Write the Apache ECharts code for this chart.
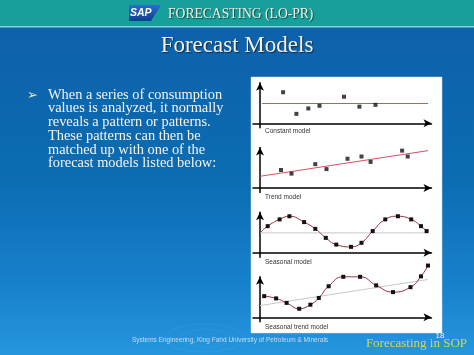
<!DOCTYPE html>
<html><head><meta charset="utf-8">
<script src="https://cdn.jsdelivr.net/npm/echarts@6/dist/echarts.min.js"></script>
<style>html,body{margin:0;padding:0;background:#0e60aa;}#c{width:474px;height:355px;}</style>
</head><body><div id="c"></div>
<script>
// ---- data (x = period, y = consumption) ----
const panelTitles = ['Constant model', 'Trend model', 'Seasonal model', 'Seasonal trend model'];

const constantPts = [[3.3, 6.9], [5.2, 2.1], [6.9, 3.3], [8.5, 3.9], [12.0, 5.9], [14.2, 3.7], [16.5, 4.1]];
const constantLine = [[0.3, 4.4], [24, 4.4]];

const trendPts = [[3.0, 4.0], [4.5, 3.2], [7.9, 5.3], [9.5, 4.2], [12.5, 6.5], [14.5, 7.0], [15.8, 5.8], [20.3, 8.3], [21.1, 7.0]];
const trendLine = [[0, 2.6], [24, 8.3]];

const seasonalPts = [[1.1, 5.9], [2.8, 7.4], [4.2, 8.1], [6.3, 6.8], [7.9, 5.3], [9.4, 3.3], [10.9, 1.8], [13.0, 1.3], [14.5, 2.2], [16.1, 4.8], [17.9, 7.4], [19.7, 8.1], [21.6, 7.4], [23.0, 5.9], [23.8, 4.8]];
const seasonalStart = [0, 4.4];
const seasonalLevel = [[0, 4.4], [24, 4.4]];

const seasTrendPts = [[0.6, 4.7], [2.3, 4.2], [3.8, 3.2], [5.6, 1.9], [7.2, 2.8], [8.4, 4.3], [9.8, 6.9], [11.9, 9.0], [14.3, 9.0], [16.6, 7.1], [19.0, 5.6], [21.5, 6.7], [23.0, 9.1], [24.0, 11.5]];
const seasTrendLine = [[0, 2.6], [24, 8.4]];

const bodyLines = ['When a series of consumption', 'values is analyzed, it normally', 'reveals a pattern or patterns.', 'These patterns can then be', 'matched up with one of the', 'forecast models listed below:'];

// ---- layout ----
const axisYs = [123.3, 188, 252.7, 317.3];
const U = 4.5, XU = 7;
const grids = axisYs.map(a => ({ left: 253, top: a - 9 * U, width: 25.5 * XU, height: 10 * U }));

const axLine = { show: true, onZero: true, symbol: ['none', 'arrow'], symbolSize: [6, 8], lineStyle: { color: '#000', width: 1.5 } };
const xAxes = grids.map((g, i) => ({ type: 'value', gridIndex: i, min: -1, max: 24.5, axisLine: axLine, axisTick: { show: false }, axisLabel: { show: false }, splitLine: { show: false } }));
const yAxes = grids.map((g, i) => ({ type: 'value', gridIndex: i, min: -1, max: 9, axisLine: axLine, axisTick: { show: false }, axisLabel: { show: false }, splitLine: { show: false } }));

const ptStyle = { color: '#111' };
function pts(data, i) {
  return { type: 'scatter', xAxisIndex: i, yAxisIndex: i, data: data, symbol: 'rect', symbolSize: 4, itemStyle: ptStyle, clip: false, z: 5, silent: true };
}
function ref(data, i, color, w) {
  return { type: 'line', xAxisIndex: i, yAxisIndex: i, data: data, symbol: 'none', lineStyle: { color: color, width: w }, clip: false, z: 3, silent: true };
}
function curve(data, i) {
  return { type: 'line', xAxisIndex: i, yAxisIndex: i, data: data, smooth: 0.5, symbol: 'rect', symbolSize: 4, showAllSymbol: true, itemStyle: ptStyle, lineStyle: { color: '#9a2a3a', width: 1 }, clip: false, z: 4, silent: true };
}

const series = [
  ref(constantLine, 0, '#d8505e', 1), pts(constantPts, 0),
  ref(trendLine, 1, '#d8505e', 1), pts(trendPts, 1),
  ref(seasonalLevel, 2, '#c8c8c8', 1),
  curve([{ value: seasonalStart, symbol: 'none' }].concat(seasonalPts.map(p => ({ value: p }))), 2),
  ref(seasTrendLine, 3, '#c8c8c8', 1),
  curve(seasTrendPts.map(p => ({ value: p })), 3)
];

const shadow = { textShadowColor: 'rgba(0,0,0,0.55)', textShadowBlur: 1, textShadowOffsetX: 1, textShadowOffsetY: 1 };
const graphic = [
  { type: 'rect', shape: { x: 0, y: 0, width: 474, height: 355 }, style: { fill: new echarts.graphic.LinearGradient(0, 0, 0, 1, [
    { offset: 0, color: '#0e5fa9' }, { offset: 0.5, color: '#0b6cb2' }, { offset: 0.8, color: '#1881cc' }, { offset: 1, color: '#2596de' }]) }, z: -10 },
  { type: 'circle', shape: { cx: 205, cy: 338, r: 40 }, scaleY: 0.35, originX: 205, originY: 338, style: { fill: 'none', stroke: 'rgba(255,255,255,0.08)', lineWidth: 1 }, z: -9 },
  { type: 'circle', shape: { cx: 205, cy: 338, r: 25 }, scaleY: 0.35, originX: 205, originY: 338, style: { fill: 'none', stroke: 'rgba(255,255,255,0.08)', lineWidth: 1 }, z: -9 },
  { type: 'rect', shape: { x: 0, y: 0, width: 474, height: 26 }, style: { fill: '#179f9c' }, z: -8 },
  { type: 'rect', shape: { x: 0, y: 26, width: 474, height: 1.5 }, style: { fill: '#8ad2d2' }, z: -8 },
  // SAP logo
  { type: 'polygon', shape: { points: [[129, 5], [161, 5], [151, 21], [129, 21]] }, style: { fill: new echarts.graphic.LinearGradient(0, 0, 0, 1, [{ offset: 0, color: '#2a6ec8' }, { offset: 1, color: '#0c3f92' }]) }, z: -7 },
  { type: 'text', x: 130, y: 13.5, style: { text: 'SAP', fill: '#fff', font: 'bold italic 10.5px "Liberation Sans"', textVerticalAlign: 'middle' }, z: -6 },
  { type: 'text', x: 168, y: 14, style: { text: 'FORECASTING (LO-PR)', fill: '#f2f0e2', font: '13.6px "Liberation Serif"', textVerticalAlign: 'middle', ...shadow }, z: -6 },
  { type: 'text', x: 237, y: 46, style: { text: 'Forecast Models', fill: '#f2f0e6', font: '23px "Liberation Serif"', textAlign: 'center', textVerticalAlign: 'middle', ...shadow }, z: -6 },
  { type: 'text', x: 27, y: 96, style: { text: '➢', fill: '#f0e8b0', font: '13px "DejaVu Sans"', textVerticalAlign: 'middle' }, z: -6 },
  ...bodyLines.map((t, i) => ({ type: 'text', x: 48, y: 95 + i * 13.7, style: { text: t, fill: '#f4f4ee', font: '14.4px "Liberation Serif"', textVerticalAlign: 'middle', textShadowColor: 'rgba(0,0,0,0.3)', textShadowOffsetX: 1, textShadowOffsetY: 1 }, z: -6 })),
  // white panel
  { type: 'rect', shape: { x: 251, y: 77, width: 191, height: 256 }, style: { fill: '#fff', stroke: '#d8d8d8', lineWidth: 0.5 }, z: -5 },
  ...panelTitles.map((t, i) => ({ type: 'text', x: 265, y: axisYs[i] + [8, 9.3, 9.3, 10][i], style: { text: t, fill: '#333', font: '6.5px "Liberation Sans"', textVerticalAlign: 'middle' }, z: -4 })),
  // footer
  { type: 'text', x: 230, y: 340, style: { text: 'Systems Engineering, King Fahd University of Petroleum & Minerals', fill: '#c4dcf2', font: '6.5px "Liberation Sans"', textAlign: 'center', textVerticalAlign: 'middle' }, z: -6 },
  { type: 'text', x: 440, y: 336, style: { text: '18', fill: '#f4f4f4', font: '8px "Liberation Sans"', textAlign: 'center', textVerticalAlign: 'middle' }, z: -6 },
  { type: 'text', x: 467, y: 344, style: { text: 'Forecasting in SOP', fill: '#cdda4c', font: '13px "Liberation Serif"', textAlign: 'right', textVerticalAlign: 'middle', textShadowColor: 'rgba(0,0,0,0.5)', textShadowOffsetX: 1, textShadowOffsetY: 1 }, z: -6 }
];

const chart = echarts.init(document.getElementById('c'), null, { renderer: 'canvas' });
chart.setOption({
  animation: false,
  grid: grids,
  xAxis: xAxes,
  yAxis: yAxes,
  series: series,
  graphic: graphic
});
</script></body></html>
